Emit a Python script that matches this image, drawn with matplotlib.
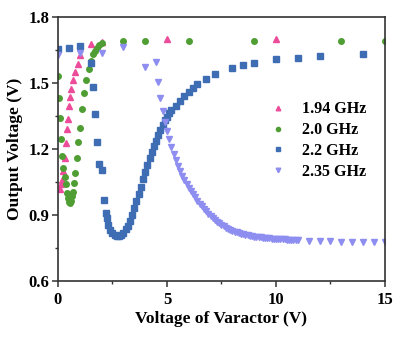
import matplotlib
matplotlib.use("Agg")
import matplotlib.pyplot as plt
from matplotlib.ticker import MultipleLocator

# ---- data ----
v_194 = [0.1, 0.15, 0.2, 0.25, 0.3, 0.35, 0.4, 0.45, 0.5, 0.55, 0.6, 0.7, 0.8, 0.9, 1.0, 1.5, 2.0, 5.0, 10.0]
o_194 = [1.02, 1.04, 1.06, 1.10, 1.16, 1.226, 1.29, 1.335, 1.395, 1.435, 1.475, 1.514, 1.55, 1.586, 1.628, 1.676, 1.686, 1.699, 1.699]

v_20 = [0.0, 0.05, 0.1, 0.15, 0.2, 0.25, 0.3, 0.35, 0.4, 0.45, 0.5, 0.55, 0.6, 0.65, 0.7, 0.75, 0.8,
        0.85, 0.9, 1.0, 1.1, 1.2, 1.3, 1.4, 1.5, 1.6, 1.7, 1.8, 1.9, 2.0, 3.0, 4.0, 6.0, 9.0, 13.0, 15.0]
o_20 = [1.53, 1.43, 1.34, 1.245, 1.168, 1.112, 1.074, 1.04, 1.0, 0.976, 0.96, 0.955, 0.962, 0.985, 1.006,
        1.045, 1.09, 1.16, 1.23, 1.297, 1.38, 1.453, 1.514, 1.564, 1.60, 1.63, 1.648, 1.66, 1.672, 1.683,
        1.69, 1.69, 1.69, 1.69, 1.69, 1.69]

v_22 = [0.0, 0.5, 1.0, 1.5, 1.6, 1.7, 1.8, 1.9, 2.0, 2.1, 2.2, 2.25, 2.3, 2.4, 2.5, 2.6, 2.7, 2.8, 2.9,
        3.0, 3.1, 3.2, 3.3, 3.4, 3.5, 3.6, 3.7, 3.8, 3.9, 4.0, 4.1, 4.2, 4.3, 4.4, 4.5, 4.6, 4.7, 4.8,
        4.9, 5.0, 5.1, 5.2, 5.4, 5.6, 5.8, 6.0, 6.2, 6.4, 6.8, 7.2, 8.0, 8.5, 9.0, 10.0, 11.0, 12.0, 14.0]
o_22 = [1.653, 1.658, 1.667, 1.59, 1.48, 1.36, 1.233, 1.13, 1.105, 0.968, 0.911, 0.885, 0.855, 0.832,
        0.818, 0.81, 0.806, 0.806, 0.81, 0.82, 0.835, 0.85, 0.872, 0.90, 0.93, 0.962, 0.995, 1.026,
        1.062, 1.097, 1.129, 1.16, 1.188, 1.212, 1.238, 1.262, 1.286, 1.31, 1.33, 1.345, 1.362, 1.376,
        1.394, 1.418, 1.44, 1.459, 1.476, 1.494, 1.518, 1.54, 1.567, 1.582, 1.592, 1.608, 1.615, 1.623, 1.63]

v_235 = [0.0, 1.0, 2.0, 3.0, 4.0, 4.5,
         4.6, 4.7, 4.8, 4.9, 5.0, 5.1, 5.2, 5.3, 5.4, 5.5, 5.6, 5.7, 5.8, 5.9, 6.0, 6.1, 6.2, 6.3, 6.4,
         6.5, 6.6, 6.7, 6.8, 6.9, 7.0, 7.1, 7.2, 7.3, 7.4, 7.5, 7.6, 7.7, 7.8, 7.9, 8.0, 8.1, 8.2, 8.3,
         8.4, 8.5, 8.6, 8.7, 8.8, 8.9, 9.0, 9.1, 9.2, 9.3, 9.4, 9.5, 9.6, 9.7, 9.8, 9.9, 10.0, 10.1,
         10.2, 10.3, 10.4, 10.5, 10.6, 10.7, 10.8, 10.9, 11.0,
         11.5, 12.0, 12.5, 13.0, 13.5, 14.0, 14.5, 15.0]
o_235 = [1.627, 1.635, 1.638, 1.665, 1.574, 1.594,
         1.506, 1.432, 1.373, 1.325, 1.28, 1.245, 1.21, 1.178, 1.15, 1.123, 1.099, 1.077, 1.058, 1.04,
         1.025, 1.01, 0.995, 0.98, 0.965, 0.952, 0.94, 0.928, 0.917, 0.906, 0.896, 0.887, 0.878, 0.87,
         0.862, 0.855, 0.849, 0.843, 0.838, 0.833, 0.829, 0.825, 0.821, 0.818, 0.815, 0.812, 0.81,
         0.808, 0.806, 0.804, 0.802, 0.801, 0.799, 0.798, 0.797, 0.796, 0.795, 0.794, 0.793, 0.792,
         0.791, 0.79, 0.79, 0.789, 0.789, 0.788, 0.788, 0.787, 0.787, 0.786, 0.786,
         0.783, 0.781, 0.78, 0.779, 0.779, 0.778, 0.778, 0.777]

labels = ["1.94 GHz", "2.0 GHz", "2.2 GHz", "2.35 GHz"]
xticks = [0, 5, 10, 15]
yticks = [0.6, 0.9, 1.2, 1.5, 1.8]

# ---- style ----
plt.rcParams['font.family'] = ['Liberation Serif', 'DejaVu Serif']
plt.rcParams['font.weight'] = 'bold'

fig = plt.figure(figsize=(4.01, 3.42), dpi=100)
ax = fig.add_axes([0.1446, 0.1784, 0.8154, 0.7716])

ax.plot(v_194, o_194, linestyle='none', marker='^', markersize=4.4, color='#ec4c9a', label=labels[0])
ax.plot(v_20, o_20, linestyle='none', marker='o', markersize=4.0, color='#4f9e34', label=labels[1])
ax.plot(v_22, o_22, linestyle='none', marker='s', markersize=3.7, color='#3f6db3', label=labels[2])
ax.plot(v_235, o_235, linestyle='none', marker='v', markersize=4.4, color='#8e8ef0', label=labels[3])

ax.set_xlim(0, 15)
ax.set_ylim(0.6, 1.8)
ax.set_xticks(xticks)
ax.set_yticks(yticks)
ax.set_xticklabels([str(t) for t in xticks])
ax.set_yticklabels([f"{t:.1f}" for t in yticks])
ax.xaxis.set_minor_locator(MultipleLocator(2.5))
ax.yaxis.set_minor_locator(MultipleLocator(0.15))
ax.tick_params(which='major', direction='out', length=4, width=1.1, labelsize=12, color='#333333')
ax.tick_params(axis='x', which='major', pad=4)
ax.tick_params(axis='y', which='major', pad=2)
ax.tick_params(which='minor', direction='out', length=2.5, width=1.0, color='#333333')
for lab in ax.get_xticklabels() + ax.get_yticklabels():
    lab.set_fontweight('bold')
for s in ax.spines.values():
    s.set_linewidth(1.2)
    s.set_color('#333333')

ax.set_xlabel("Voltage of Varactor (V)", fontsize=12.5, fontweight='bold', labelpad=2)
ax.set_ylabel("Output Voltage (V)", fontsize=12.5, fontweight='bold', labelpad=4)

leg = ax.legend(loc='upper left', bbox_to_anchor=(0.615, 0.723), frameon=False, fontsize=11.5,
                handlelength=1.0, handletextpad=1.0, labelspacing=0.3, markerscale=0.75,
                borderaxespad=0.3)
for t in leg.get_texts():
    t.set_fontweight('bold')

fig.savefig("out.png", dpi=100)
